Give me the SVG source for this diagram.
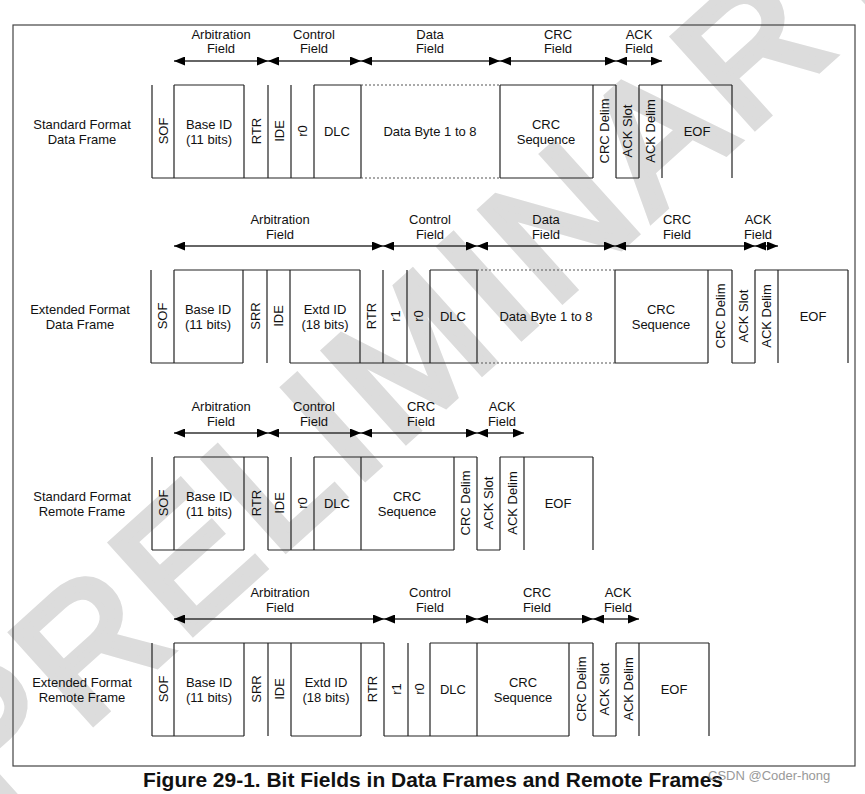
<svg xmlns="http://www.w3.org/2000/svg" width="865" height="794" viewBox="0 0 865 794">
<defs>
<marker id="ah" viewBox="0 0 11 9" refX="11" refY="4.5" markerWidth="11" markerHeight="9" markerUnits="userSpaceOnUse" orient="auto-start-reverse"><path d="M0,0 L11,4.5 L0,9 z" fill="#000"/></marker>
<style>
text{font-family:"Liberation Sans",Arial,sans-serif;font-size:13px;fill:#111}
.c{text-anchor:middle;dominant-baseline:central}
.w{fill:none;stroke:#222;stroke-width:1.2}
.d{fill:none;stroke:#555;stroke-width:1.2;stroke-dasharray:2 2}
.a{fill:none;stroke:#333;stroke-width:1.5;marker-start:url(#ah);marker-end:url(#ah)}
</style>
</defs>
<rect width="865" height="794" fill="#fff"/>
<text x="-10" y="815" transform="rotate(-42 -10 815)" style="font-size:175px;fill:#dcdcdc;stroke:#dcdcdc;stroke-width:8;letter-spacing:8px">PRELIMINARY</text>
<rect x="13" y="25" width="842" height="741" fill="none" stroke="#444" stroke-width="1.2"/>

<g id="connectors">
<line class="a" x1="174" y1="61" x2="268" y2="61"/><line class="a" x1="268" y1="61" x2="361" y2="61"/><line class="a" x1="361" y1="61" x2="500" y2="61"/><line class="a" x1="500" y1="61" x2="616" y2="61"/><line class="a" x1="616" y1="61" x2="662" y2="61"/>
<line class="a" x1="174" y1="246" x2="383" y2="246"/><line class="a" x1="383" y1="246" x2="477" y2="246"/><line class="a" x1="477" y1="246" x2="615" y2="246"/><line class="a" x1="615" y1="246" x2="755" y2="246"/><line class="a" x1="755" y1="246" x2="778" y2="246"/>
<line class="a" x1="174" y1="433" x2="268" y2="433"/><line class="a" x1="268" y1="433" x2="361" y2="433"/><line class="a" x1="361" y1="433" x2="477" y2="433"/><line class="a" x1="477" y1="433" x2="524" y2="433"/>
<line class="a" x1="174" y1="619" x2="384" y2="619"/><line class="a" x1="384" y1="619" x2="477" y2="619"/><line class="a" x1="477" y1="619" x2="593" y2="619"/><line class="a" x1="593" y1="619" x2="639" y2="619"/>
</g>

<g id="frame1">
<text class="c" x="82" y="124">Standard Format</text><text class="c" x="82" y="139">Data Frame</text>
<text class="c" x="221" y="34">Arbitration</text><text class="c" x="221" y="48">Field</text>
<text class="c" x="314" y="34">Control</text><text class="c" x="314" y="48">Field</text>
<text class="c" x="430" y="34">Data</text><text class="c" x="430" y="48">Field</text>
<text class="c" x="558" y="34">CRC</text><text class="c" x="558" y="48">Field</text>
<text class="c" x="639" y="34">ACK</text><text class="c" x="639" y="48">Field</text>
<path class="w" d="M152,85V178M174,85V178M244,85V178M268,85V178M291,85V178M314,85V178M361,85V178M500,85V178M593,85V178M616,85V178M639,85V178M662,85V178M732,85V178"/>
<path class="w" d="M174,85H244M314,85H361M500,85H616M639,85H732M152,178H361M500,178H593M616,178H639"/>
<path class="d" d="M361,85H500M361,178H500"/>
<text class="c" transform="translate(163,131) rotate(-90)">SOF</text>
<text class="c" x="209" y="124">Base ID</text><text class="c" x="209" y="139">(11 bits)</text>
<text class="c" transform="translate(256,131) rotate(-90)">RTR</text>
<text class="c" transform="translate(279,131) rotate(-90)">IDE</text>
<text class="c" transform="translate(302,131) rotate(-90)">r0</text>
<text class="c" x="337" y="131">DLC</text>
<text class="c" x="430" y="131">Data Byte 1 to 8</text>
<text class="c" x="546" y="124">CRC</text><text class="c" x="546" y="139">Sequence</text>
<text class="c" transform="translate(604,131) rotate(-90)">CRC Delim</text>
<text class="c" transform="translate(627,131) rotate(-90)">ACK Slot</text>
<text class="c" transform="translate(650,131) rotate(-90)">ACK Delim</text>
<text class="c" x="697" y="131">EOF</text>
</g>

<g id="frame2">
<text class="c" x="80" y="309">Extended Format</text><text class="c" x="80" y="324">Data Frame</text>
<text class="c" x="280" y="219">Arbitration</text><text class="c" x="280" y="234">Field</text>
<text class="c" x="430" y="219">Control</text><text class="c" x="430" y="234">Field</text>
<text class="c" x="546" y="219">Data</text><text class="c" x="546" y="234">Field</text>
<text class="c" x="677" y="219">CRC</text><text class="c" x="677" y="234">Field</text>
<text class="c" x="758" y="219">ACK</text><text class="c" x="758" y="234">Field</text>
<path class="w" d="M151,270V363M174,270V363M243,270V363M267,270V363M290,270V363M360,270V363M383,270V363M407,270V363M430,270V363M477,270V363M615,270V363M708,270V363M732,270V363M755,270V363M778,270V363M848,270V363"/>
<path class="w" d="M174,270H360M430,270H477M615,270H732M755,270H848M151,363H243M290,363H477M615,363H708M732,363H755"/>
<path class="d" d="M477,270H615M477,363H615"/>
<text class="c" transform="translate(162,316) rotate(-90)">SOF</text>
<text class="c" x="208" y="309">Base ID</text><text class="c" x="208" y="324">(11 bits)</text>
<text class="c" transform="translate(255,316) rotate(-90)">SRR</text>
<text class="c" transform="translate(278,316) rotate(-90)">IDE</text>
<text class="c" x="325" y="309">Extd ID</text><text class="c" x="325" y="324">(18 bits)</text>
<text class="c" transform="translate(371,316) rotate(-90)">RTR</text>
<text class="c" transform="translate(395,316) rotate(-90)">r1</text>
<text class="c" transform="translate(418,316) rotate(-90)">r0</text>
<text class="c" x="453" y="316">DLC</text>
<text class="c" x="546" y="316">Data Byte 1 to 8</text>
<text class="c" x="661" y="309">CRC</text><text class="c" x="661" y="324">Sequence</text>
<text class="c" transform="translate(720,316) rotate(-90)">CRC Delim</text>
<text class="c" transform="translate(743,316) rotate(-90)">ACK Slot</text>
<text class="c" transform="translate(766,316) rotate(-90)">ACK Delim</text>
<text class="c" x="813" y="316">EOF</text>
</g>

<g id="frame3">
<text class="c" x="82" y="496">Standard Format</text><text class="c" x="82" y="511">Remote Frame</text>
<text class="c" x="221" y="406">Arbitration</text><text class="c" x="221" y="421">Field</text>
<text class="c" x="314" y="406">Control</text><text class="c" x="314" y="421">Field</text>
<text class="c" x="421" y="406">CRC</text><text class="c" x="421" y="421">Field</text>
<text class="c" x="502" y="406">ACK</text><text class="c" x="502" y="421">Field</text>
<path class="w" d="M152,457V550M174,457V550M244,457V550M268,457V550M291,457V550M314,457V550M361,457V550M454,457V550M477,457V550M500,457V550M524,457V550M593,457V550"/>
<path class="w" d="M174,457H268M314,457H477M500,457H593M152,550H244M268,550H454M477,550H500"/>
<text class="c" transform="translate(163,503) rotate(-90)">SOF</text>
<text class="c" x="209" y="496">Base ID</text><text class="c" x="209" y="511">(11 bits)</text>
<text class="c" transform="translate(256,503) rotate(-90)">RTR</text>
<text class="c" transform="translate(279,503) rotate(-90)">IDE</text>
<text class="c" transform="translate(302,503) rotate(-90)">r0</text>
<text class="c" x="337" y="503">DLC</text>
<text class="c" x="407" y="496">CRC</text><text class="c" x="407" y="511">Sequence</text>
<text class="c" transform="translate(465,503) rotate(-90)">CRC Delim</text>
<text class="c" transform="translate(488,503) rotate(-90)">ACK Slot</text>
<text class="c" transform="translate(512,503) rotate(-90)">ACK Delim</text>
<text class="c" x="558" y="503">EOF</text>
</g>

<g id="frame4">
<text class="c" x="82" y="682">Extended Format</text><text class="c" x="82" y="697">Remote Frame</text>
<text class="c" x="280" y="592">Arbitration</text><text class="c" x="280" y="607">Field</text>
<text class="c" x="430" y="592">Control</text><text class="c" x="430" y="607">Field</text>
<text class="c" x="537" y="592">CRC</text><text class="c" x="537" y="607">Field</text>
<text class="c" x="618" y="592">ACK</text><text class="c" x="618" y="607">Field</text>
<path class="w" d="M152,643V736M174,643V736M244,643V736M268,643V736M291,643V736M361,643V736M384,643V736M408,643V736M430,643V736M477,643V736M569,643V736M593,643V736M616,643V736M639,643V736M709,643V736"/>
<path class="w" d="M174,643H384M430,643H593M616,643H709M152,736H244M291,736H361M384,736H569M593,736H616"/>
<text class="c" transform="translate(163,689) rotate(-90)">SOF</text>
<text class="c" x="209" y="682">Base ID</text><text class="c" x="209" y="697">(11 bits)</text>
<text class="c" transform="translate(256,689) rotate(-90)">SRR</text>
<text class="c" transform="translate(279,689) rotate(-90)">IDE</text>
<text class="c" x="326" y="682">Extd ID</text><text class="c" x="326" y="697">(18 bits)</text>
<text class="c" transform="translate(372,689) rotate(-90)">RTR</text>
<text class="c" transform="translate(396,689) rotate(-90)">r1</text>
<text class="c" transform="translate(419,689) rotate(-90)">r0</text>
<text class="c" x="453" y="689">DLC</text>
<text class="c" x="523" y="682">CRC</text><text class="c" x="523" y="697">Sequence</text>
<text class="c" transform="translate(581,689) rotate(-90)">CRC Delim</text>
<text class="c" transform="translate(604,689) rotate(-90)">ACK Slot</text>
<text class="c" transform="translate(628,689) rotate(-90)">ACK Delim</text>
<text class="c" x="674" y="689">EOF</text>
</g>

<text x="143" y="787" textLength="580" lengthAdjust="spacingAndGlyphs" style="font-size:20px;font-weight:bold;fill:#111">Figure 29-1. Bit Fields in Data Frames and Remote Frames</text>
<text x="708" y="780" style="font-size:13px;fill:#999">CSDN @Coder-hong</text>
</svg>
